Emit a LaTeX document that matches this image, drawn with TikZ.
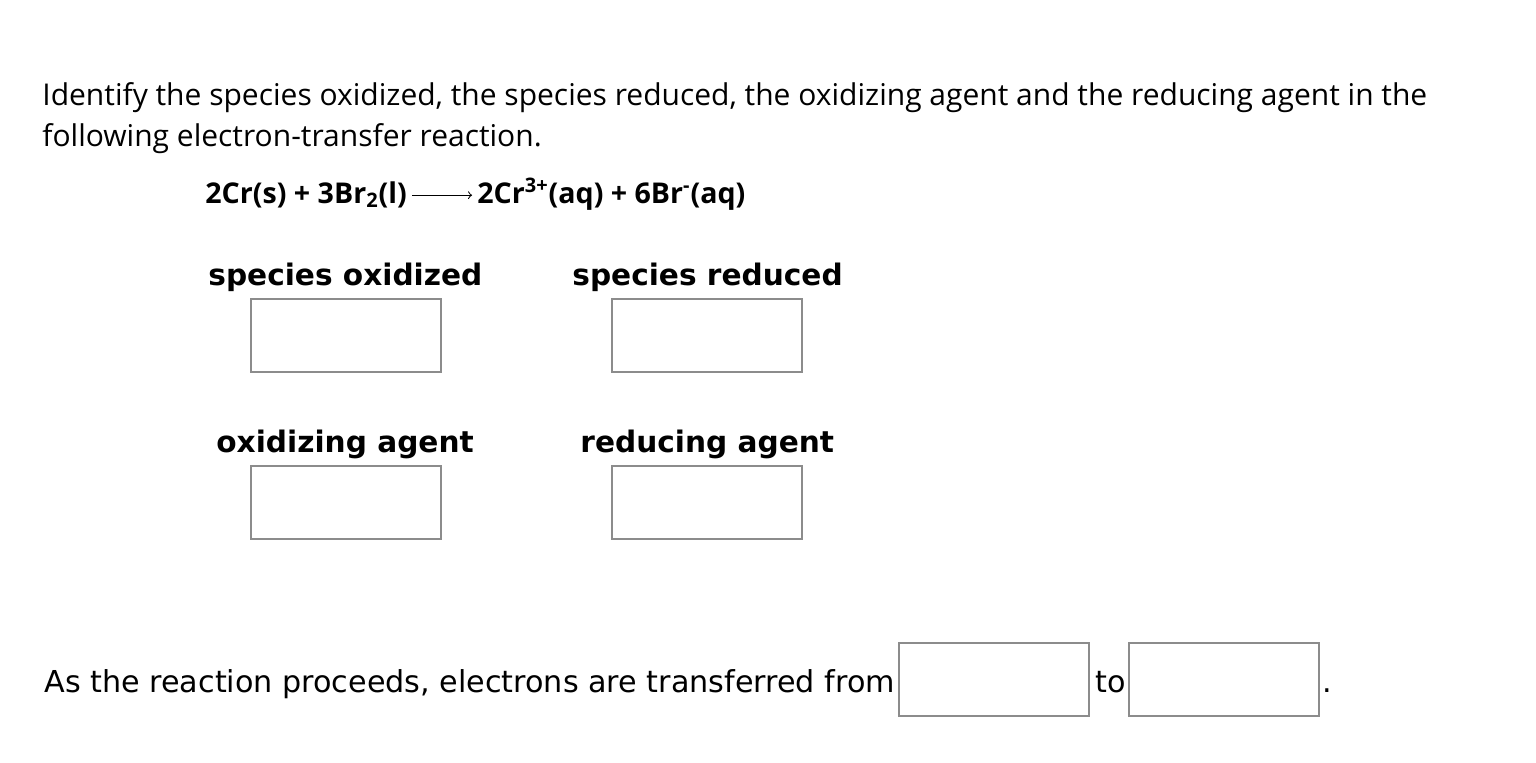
\documentclass[tikz,border=0pt]{standalone}
\usepackage{fontspec}
\setmainfont{Open Sans}
\newfontfamily\vfont{DejaVu Sans}
\begin{document}
\begin{tikzpicture}[x=0.5pt,y=-0.5pt,
  txt/.style={anchor=base west,inner sep=0,font=\fontsize{15}{18}\selectfont},
  lbl/.style={anchor=base west,inner sep=0,font=\vfont\bfseries\fontsize{14.8}{17}\selectfont},
  ansbox/.style={draw=black!45,line width=1pt}]
\useasboundingbox (0,0) rectangle (1536,762);
\node[txt] (t1) at (42,105) {Identify the species oxidized, the species reduced, the oxidizing agent and the reducing agent in the};
\node[txt] (t2) at (42,146) {following electron-transfer reaction.};
\node[txt,font=\bfseries\fontsize{14.3}{17}\selectfont] (eq) at (205,203) {2Cr(s) + 3Br\textsubscript{2}(l)\,\raisebox{0.5ex}{\tikz[baseline]\draw[->,line width=0.5pt] (0,0)--(30pt,0);}\,2Cr\textsuperscript{3+}(aq) + 6Br\textsuperscript{-}(aq)};
\node[lbl] (l1) at (208,285) {species oxidized};
\node[lbl] (l2) at (572,285) {species reduced};
\node[lbl] (l3) at (216,452) {oxidizing agent};
\node[lbl] (l4) at (580,452) {reducing agent};
\draw[ansbox] (251,299) rectangle (441,372);
\draw[ansbox] (612,299) rectangle (802,372);
\draw[ansbox] (251,466) rectangle (441,539);
\draw[ansbox] (612,466) rectangle (802,539);
\node[txt,font=\vfont\fontsize{15.1}{18}\selectfont] (t3) at (44,692) {As the reaction proceeds, electrons are transferred from};
\draw[ansbox] (899,643) rectangle (1089,716);
\node[txt,font=\vfont\fontsize{15.1}{18}\selectfont] (t4) at (1095,692) {to};
\draw[ansbox] (1129,643) rectangle (1319,716);
\node[txt,font=\vfont\fontsize{15.1}{18}\selectfont] (t5) at (1322,692) {.};
\end{tikzpicture}
\end{document}
